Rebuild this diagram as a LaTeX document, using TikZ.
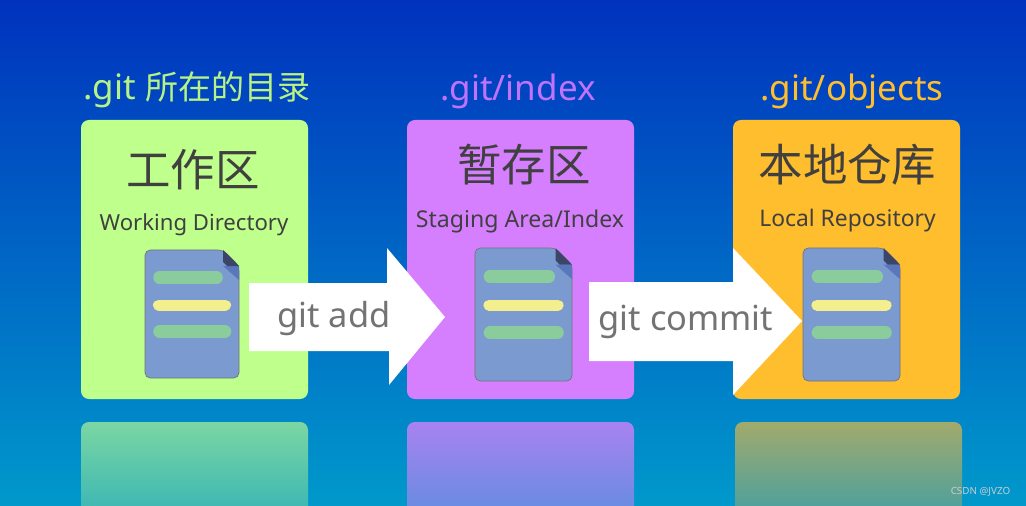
\documentclass[tikz,border=0pt]{standalone}
\usepackage{fontspec}
\setmainfont{Noto Sans}
\newfontfamily\cjk{Noto Sans CJK SC}
\definecolor{bgtop}{HTML}{0032BE}
\definecolor{bgmid}{HTML}{0068C6}
\definecolor{bgbot}{HTML}{0099CB}
\definecolor{workcol}{HTML}{BFFF8C}
\definecolor{stagecol}{HTML}{D67FFE}
\definecolor{repocol}{HTML}{FFBE2E}
\definecolor{darktext}{HTML}{404040}
\definecolor{arrowtext}{HTML}{737373}
\definecolor{docbody}{HTML}{7B9BD0}
\definecolor{docgreen}{HTML}{8BCC9C}
\definecolor{docyellow}{HTML}{F3EF8E}
\definecolor{docfold}{HTML}{3A4568}
\definecolor{docshade}{HTML}{5A77BB}
\tikzset{
 areabox/.style={rounded corners=4.5pt,minimum width=227*0.02cm,minimum height=279*0.02cm,inner sep=0pt},
 headtext/.style={font=\fontsize{19.9}{20}\selectfont},
 bigtext/.style={font=\cjk\fontsize{25.3}{26}\selectfont,text=darktext},
 smalltext/.style={text=darktext},
 arrowlabel/.style={font=\fontsize{19.6}{20}\selectfont,text=arrowtext},
 flowarrow/.style={fill=white},
 docbar/.style={line cap=round,line width=0.25cm},
}
% one file icon, x y width height
\newcommand{\docicon}[4]{
 \begin{scope}[shift={(#1,#2)},xscale=#3/94,yscale=#4/128]
  \draw[fill=docbody,draw=black!55,rounded corners=3pt](0,0)--(78,0)--(94,16)--(94,128)--(0,128)--cycle;
  \fill[docshade](94,16)--(78,16)--(94,30)--cycle;
  \fill[docfold](78,0)--(78,12)--(82,16)--(94,16)--cycle;
  \draw[docbar,docgreen](14.5,27.5)--(71.5,27.5);
  \draw[docbar,docyellow,line width=0.22cm](13.5,55)--(80.5,55);
  \draw[docbar,docgreen](14.5,81.5)--(80,81.5);
 \end{scope}}
\definecolor{workrefa}{RGB}{123,214,163}
\definecolor{workrefb}{RGB}{46,177,184}
\definecolor{stagerefa}{RGB}{168,130,240}
\definecolor{stagerefb}{RGB}{90,142,222}
\definecolor{reporefa}{RGB}{162,170,108}
\definecolor{reporefb}{RGB}{58,158,168}
\begin{document}
\begin{tikzpicture}[x=0.02cm,y=-0.02cm]
 \useasboundingbox (0,0) rectangle (1026,506);
 \shade[top color=bgtop,middle color=bgmid,bottom color=bgbot] (0,0) rectangle (1026,506);
 % reflections
 \shade[rounded corners=4.5pt,top color=workrefa,bottom color=workrefb] (81,530) -- (81,422) -- (308,422) -- (308,530) -- cycle;
 \shade[rounded corners=4.5pt,top color=stagerefa,bottom color=stagerefb] (407,530) -- (407,422) -- (634,422) -- (634,530) -- cycle;
 \shade[rounded corners=4.5pt,top color=reporefa,bottom color=reporefb] (735,530) -- (735,422) -- (962,422) -- (962,530) -- cycle;
 % the three areas
 \node[areabox,fill=workcol] (workbox) at (194.5,259.5) {};
 \node[areabox,fill=stagecol] (stagebox) at (520.5,259.5) {};
 \node[areabox,fill=repocol] (repobox) at (846.5,259.5) {};
 \node[headtext,text=workcol!95!black] (workhead) at (197,90) {.git {\cjk\fontsize{18.8}{20}\selectfont 所在的目录}};
 \node[headtext,text=stagecol!90!blue] (stagehead) at (518,91) {.git/index};
 \node[headtext,text=repocol] (repohead) at (852,91) {.git/objects};
 \node[bigtext] (workname) at (193,170) {工作区};
 \node[bigtext] (stagename) at (524,165) {暂存区};
 \node[bigtext] (reponame) at (847.5,165) {本地仓库};
 \node[smalltext,font=\fontsize{12.6}{13}\selectfont] (workeng) at (194,225) {Working Directory};
 \node[smalltext,font=\fontsize{13.15}{14}\selectfont] (stageeng) at (520,221) {Staging Area/Index};
 \node[smalltext,font=\fontsize{13}{14}\selectfont] (repoeng) at (847.5,221) {Local Repository};
 \docicon{145}{250}{94}{128}
 \docicon{475}{248}{97}{133}
 \docicon{803}{248}{97}{133}
 % arrows
 \fill[flowarrow](249,283)--(387,283)--(387,248)--(445,317)--(389,385)--(389,351)--(249,351)--cycle;
 \fill[flowarrow](589,282)--(733,282)--(733,248)--(802,321)--(733,395)--(733,361)--(589,361)--cycle;
 \node[arrowlabel] (addlabel) at (334,319) {git add};
 \node[arrowlabel] (commitlabel) at (686,322) {git commit};
 \node[font=\fontsize{5.6}{6}\selectfont,text=white!80!black] (mark) at (980.5,492) {CSDN @JVZO};
\end{tikzpicture}
\end{document}
